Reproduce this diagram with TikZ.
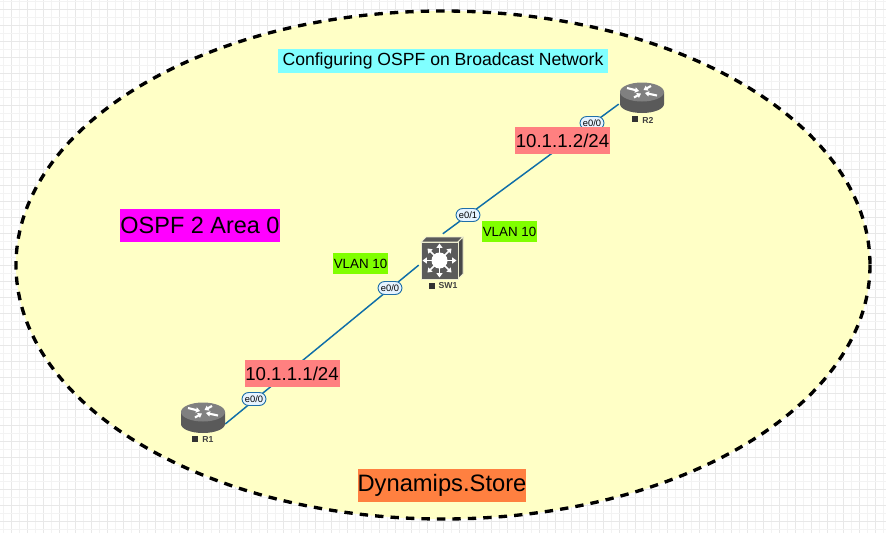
\documentclass[tikz,border=0pt]{standalone}
\usepackage{fontspec}
\setmainfont{Liberation Sans}
\usetikzlibrary{arrows.meta}
\definecolor{areafill}{HTML}{FFFFC6}
\definecolor{linkblue}{HTML}{0F6EA8}
\definecolor{pillfill}{HTML}{E6F3FF}
\definecolor{pilledge}{HTML}{1F6FA8}
\definecolor{gridminor}{HTML}{F3F3F3}
\definecolor{gridmajor}{HTML}{E8E8E8}
\definecolor{iconbody}{HTML}{5A5A5A}
\definecolor{icontop}{HTML}{808080}
\definecolor{iconrim}{HTML}{EDEDD0}
\definecolor{ipred}{HTML}{FF8080}
\definecolor{vlangreen}{HTML}{80FF00}
\definecolor{titlecyan}{HTML}{80FFFF}
\definecolor{areamagenta}{HTML}{FF00FF}
\definecolor{storeorange}{HTML}{FF8040}
\tikzset{
  x=0.75pt,y=-0.75pt,
  ipbox/.style={rectangle,fill=ipred,minimum width=95*0.75pt,minimum height=27*0.75pt,inner sep=0pt,font=\fontsize{14}{16}\selectfont},
  vlanbox/.style={rectangle,fill=vlangreen,minimum width=55*0.75pt,minimum height=21*0.75pt,inner sep=0pt,font=\fontsize{10}{11}\selectfont},
  pill/.style={rectangle,rounded corners=5pt,draw=pilledge,line width=0.7pt,fill=pillfill,minimum width=24*0.75pt,minimum height=13*0.75pt,inner sep=0pt,font=\fontsize{7}{8}\selectfont},
  link/.style={draw=linkblue,line width=1.1pt},
  devname/.style={font=\bfseries\fontsize{6.5}{7}\selectfont,text=black!75,inner sep=0pt},
  devmark/.style={fill=black!80,minimum size=5pt,inner sep=0pt},
  holder/.style={rectangle,inner sep=0pt,minimum width=#1},
  routerarrow/.style={draw=white,line width=1.6pt,-{Triangle[length=3pt,width=4pt]}},
  switcharrow/.style={draw=white,line width=1.3pt,-{Triangle[length=3.2pt,width=4.4pt]}},
  pics/router/.style={code={
    \fill[iconbody] (-22,-6) -- (-22,6) arc[start angle=180,end angle=0,x radius=22,y radius=9] -- (22,-6) -- cycle;
    \fill[icontop] (0,-6) ellipse[x radius=22,y radius=9.5];
    \draw[routerarrow] (-15,-10) -- (-3,-7);
    \draw[routerarrow] (15,-2.5) -- (3,-5);
    \draw[routerarrow] (-8,-0.5) -- (-1,-4.5);
    \draw[routerarrow] (9,-12) -- (1.5,-8);
  }},
  pics/l3switch/.style={code={
    \fill[icontop!70!black,draw=iconrim,line width=0.6pt] (-21,-16) -- (-16,-21) -- (21,-21) -- (16,-16) -- cycle;
    \fill[iconbody!80!black,draw=iconrim,line width=0.6pt] (16,-16) -- (21,-21) -- (21,16) -- (16,21) -- cycle;
    \fill[iconbody,draw=iconrim,line width=0.6pt] (-21,-16) rectangle (16,21);
    \foreach \a in {0,45,...,315}{
      \draw[switcharrow] ([shift={(\a:7)}]-2.5,2.5) -- ([shift={(\a:17)}]-2.5,2.5);
    }
    \fill[white] (-2.5,2.5) circle[radius=8];
  }},
}
\begin{document}
\begin{tikzpicture}
\useasboundingbox (0,0) rectangle (886,533);
\fill[white] (0,0) rectangle (886,533);
\foreach \k in {0,...,110}{
  \pgfmathtruncatemacro{\m}{mod(\k,2)}
  \ifnum\m=1 \def\gc{gridmajor}\else\def\gc{gridminor}\fi
  \draw[\gc,line width=0.7pt] ({3+8*\k},0) -- ({3+8*\k},533);
}
\foreach \k in {0,...,66}{
  \pgfmathtruncatemacro{\m}{mod(\k,2)}
  \ifnum\m=1 \def\gc{gridmajor}\else\def\gc{gridminor}\fi
  \draw[\gc,line width=0.7pt] (0,{1+8*\k}) -- (886,{1+8*\k});
}
\draw[fill=areafill,line width=2.5pt,dash pattern=on 6.3pt off 5.3pt] (443,265) ellipse[x radius=427,y radius=254];

% device holders
\node[holder=44*0.75pt,minimum height=30*0.75pt] (r1) at (203,418) {};
\node[holder=46*0.75pt,minimum height=48*0.75pt] (sw1) at (442,258) {};
\node[holder=46*0.75pt,minimum height=30*0.75pt] (r2) at (642,100) {};

% connectors
\draw[link] (r1.-15) -- (sw1.197);
\draw[link] (sw1.88) -- (r2.190);

% icons
\pic at (203,418) {router};
\pic at (642,98) {router};
\pic at (442,258) {l3switch};

% device names
\node[devmark] (r1m) at (195,439) {};
\node[devname] (r1n) at (208,440) {R1};
\node[devmark] (r2m) at (635,119) {};
\node[devname] (r2n) at (648,120) {R2};
\node[devmark] (swm) at (432,286) {};
\node[devname] (swn) at (448,286) {SW1};

% interface labels
\node[pill] (p1) at (254,399) {e0/0};
\node[pill] (p2) at (390,288) {e0/0};
\node[pill] (p3) at (468,215) {e0/1};
\node[pill] (p4) at (592,123) {e0/0};

% text labels
\node[rectangle,fill=titlecyan,minimum width=330*0.75pt,minimum height=24*0.75pt,inner sep=0pt,font=\fontsize{13.2}{15}\selectfont] (title) at (443,61) {Configuring OSPF on Broadcast Network};
\node[rectangle,fill=areamagenta,minimum width=160*0.75pt,minimum height=33*0.75pt,inner sep=0pt,font=\fontsize{17.6}{20}\selectfont] (area) at (200,225) {OSPF 2 Area 0};
\node[rectangle,fill=storeorange,minimum width=168*0.75pt,minimum height=33*0.75pt,inner sep=0pt,font=\fontsize{17.8}{20}\selectfont] (store) at (442,485.5) {Dynamips.Store};
\node[ipbox] (ip2) at (562.5,140.5) {10.1.1.2/24};
\node[ipbox] (ip1) at (292,373.5) {10.1.1.1/24};
\node[vlanbox] (v2) at (509.5,231.5) {VLAN 10};
\node[vlanbox] (v1) at (360.5,263.5) {VLAN 10};
\end{tikzpicture}
\end{document}
